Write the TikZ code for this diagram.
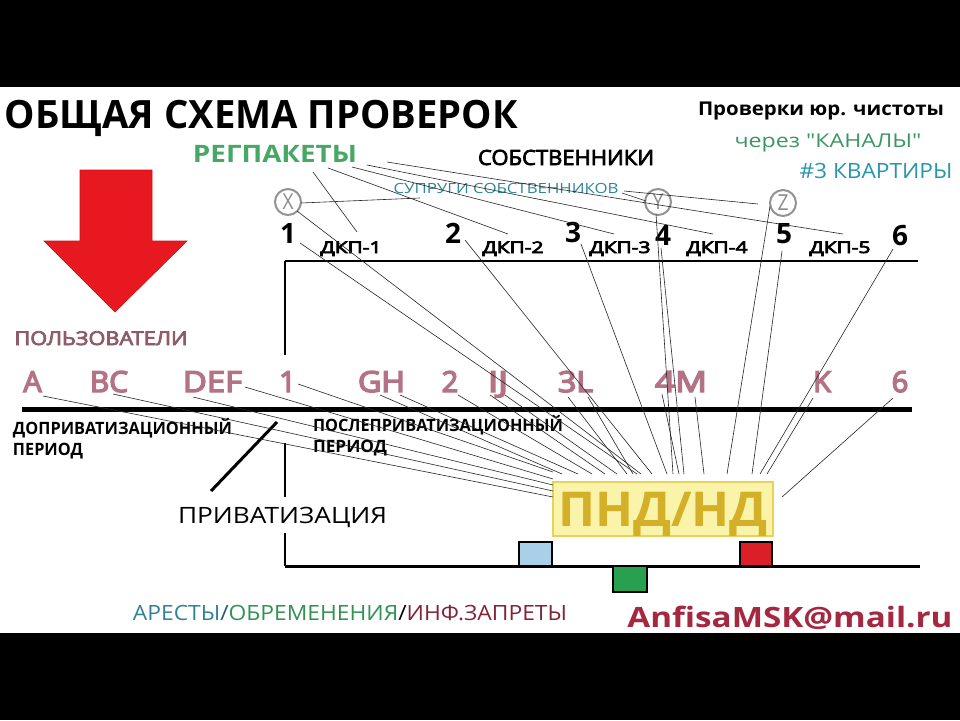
\documentclass[tikz,border=0pt]{standalone}
\usepackage{fontspec}
\usepackage{graphicx}
\setmainfont{Open Sans}
\newfontfamily\regf{Open Sans}
\newcommand\medf[1]{\special{pdf:literal direct 2 Tr 0.7 w}#1\special{pdf:literal direct 0 Tr}}
\newcommand\medfw[1]{\special{pdf:literal direct 2 Tr 1.4 w}#1\special{pdf:literal direct 0 Tr}}
\newcommand\tw[2]{\resizebox{#1pt}{\height}{#2}}
\newcommand\fs[1]{\fontsize{#1}{#1}\selectfont}
\definecolor{mauve}{RGB}{180,115,132}
\definecolor{mauvedk}{RGB}{140,92,104}
\definecolor{rpgreen}{RGB}{70,168,100}
\definecolor{tealA}{RGB}{40,150,170}
\definecolor{tealB}{RGB}{45,135,150}
\definecolor{chgreen}{RGB}{60,150,100}
\definecolor{arrowred}{RGB}{232,24,32}
\definecolor{gold}{RGB}{212,176,40}
\definecolor{lightyel}{RGB}{250,244,170}
\definecolor{yelborder}{RGB}{232,210,90}
\definecolor{sqblue}{RGB}{168,208,232}
\definecolor{sqgreen}{RGB}{40,160,80}
\definecolor{sqred}{RGB}{220,30,40}
\definecolor{mailred}{RGB}{165,40,65}
\definecolor{arBlue}{RGB}{50,130,150}
\definecolor{obGreen}{RGB}{50,145,85}
\definecolor{zpRed}{RGB}{130,35,55}
\tikzset{
  txt/.style={inner sep=0pt, anchor=base},
  thinln/.style={draw=black!85, line width=0.6pt},
  axis/.style={draw=black, line width=2.6pt},
  circ/.style={circle, draw=gray!85, line width=2pt, minimum size=26pt, inner sep=0pt, text=gray!90, font=\fs{22}},
  sq/.style={draw=black, line width=2.4pt},
}
\begin{document}
\begin{tikzpicture}[x=1pt,y=-1pt]
\fill[black] (0,0) rectangle (960,720);
\fill[white] (0,87) rectangle (960,633);
\useasboundingbox (0,0) rectangle (960,720);

% titles
\node[txt, font=\fs{39}\bfseries] (title) at (261.5,128) {\tw{513}{ОБЩАЯ СХЕМА ПРОВЕРОК}};
\node[txt, font=\fs{19}\bfseries] (chk) at (821,115) {\tw{246}{Проверки юр. чистоты}};
\node[txt, font=\fs{19}\regf, text=chgreen] (kan) at (828,147) {\tw{187}{через "КАНАЛЫ"}};
\node[txt, font=\fs{21}, text=tealA] (kv) at (876,178) {\tw{153}{\#3 КВАРТИРЫ}};
\node[txt, font=\fs{24}\bfseries, text=rpgreen] (rp) at (275,162) {\tw{164}{РЕГПАКЕТЫ}};
\node[txt, font=\fs{21}] (sob) at (566,165) {\tw{176}{\medf{СОБСТВЕННИКИ}}};
\node[txt, font=\fs{14}, text=tealB] (sup) at (506,193) {\tw{225}{СУПРУГИ СОБСТВЕННИКОВ}};

% circles
\node[circ] (cx) at (288,202) {\tw{11}{X}};
\node[circ] (cy) at (658,202) {\tw{11}{Y}};
\node[circ] (cz) at (783,203) {\tw{11}{Z}};

% numbers
\foreach \n/\x/\y in {1/288/243, 2/453/243, 3/573/242, 4/663/245, 5/784/243, 6/900/245}
  \node[txt, font=\fs{28}\bfseries] (n\n) at (\x,\y) {\n};
% DKP
\foreach \n/\x in {1/351, 2/513, 3/620, 4/717, 5/840}
  \node[txt, font=\fs{16}] (d\n) at (\x,253) {\tw{61}{\medf{ДКП-\n}}};

% arrow
\filldraw[fill=arrowred, draw=arrowred!85!black, line width=0.6pt]
  (80,170) -- (152,170) -- (152,241) -- (187,241) -- (115,312) -- (44,241) -- (80,241) -- cycle;

\node[txt, font=\fs{19}, text=mauvedk] (polz) at (101,345) {\tw{173}{\medf{ПОЛЬЗОВАТЕЛИ}}};

% row letters
\tikzset{rowl/.style={txt, font=\fs{29}, text=mauve}}
\node[rowl] (rA) at (32.5,392) {\medfw{A}};
\node[rowl] (rBC) at (109,392) {\tw{38}{\medfw{BC}}};
\node[rowl] (rDEF) at (212.5,392) {\tw{59}{\medfw{DEF}}};
\node[rowl] (r1) at (287.5,392) {\medfw{1}};
\node[rowl] (rGH) at (381.5,392) {\tw{47}{\medfw{GH}}};
\node[rowl] (r2) at (450,392) {\medfw{2}};
\node[rowl] (rIJ) at (498,392) {\tw{20}{\medfw{IJ}}};
\node[rowl] (r3L) at (575.5,392) {\tw{35}{\medfw{3L}}};
\node[rowl] (r4M) at (681,392) {\tw{52}{\medfw{4M}}};
\node[rowl] (rK) at (822,392) {\medfw{K}};
\node[rowl] (r6) at (900,392) {\medfw{6}};

% period labels
\node[txt, font=\fs{17}\bfseries] (dop) at (122.5,434) {\tw{219}{ДОПРИВАТИЗАЦИОННЫЙ}};
\node[txt, font=\fs{17}\bfseries] (dop2) at (48,455) {\tw{70}{ПЕРИОД}};
\node[txt, font=\fs{17}\bfseries] (posl) at (438,431) {\tw{250}{ПОСЛЕПРИВАТИЗАЦИОННЫЙ}};
\node[txt, font=\fs{17}\bfseries] (posl2) at (350,452) {\tw{74}{ПЕРИОД}};
\node[txt, font=\fs{22.5}] (priv) at (282.5,523) {\tw{209}{ПРИВАТИЗАЦИЯ}};

% PND box
\node[draw=yelborder, fill=lightyel, line width=2pt, minimum width=220pt, minimum height=54pt, inner sep=0pt] (box) at (663,509) {};
\node[txt, font=\fs{48}\bfseries, text=gold] (pnd) at (663,526) {\tw{210}{ПНД/НД}};

% axes
\coordinate (tl) at (285,261); \coordinate (tr) at (918,261);
\coordinate (bl) at (285,566); \coordinate (br) at (920,566);
\coordinate (ml) at (22,409); \coordinate (mr) at (912,409);
\coordinate (v1) at (285,355); \coordinate (v2) at (285,443); \coordinate (v3) at (285,497); \coordinate (v4) at (285,533);
\draw[axis] (tl) -- (tr);
\draw[axis, line width=3pt] (bl) -- (br);
\draw[axis, line width=5pt] (ml) -- (mr);
\draw[axis] (tl) -- (v1);
\draw[axis] (v2) -- (v3);
\draw[axis] (v4) -- (bl);
\coordinate (pvA) at (277,422); \coordinate (pvB) at (211,491);
\draw[black, line width=3pt] (pvA) -- (pvB);

% squares
\filldraw[sq, fill=sqblue] (519,542) rectangle (552,566);
\filldraw[sq, fill=sqred] (740,542) rectangle (772,566);
\filldraw[sq, fill=sqgreen] (613,566) rectangle (647,592);

% bottom texts
\node[txt, font=\fs{21}] (ar) at (350,620) {\tw{434}{\textcolor{arBlue}{АРЕСТЫ}\textcolor{tealB!70!black}{/}\textcolor{obGreen}{ОБРЕМЕНЕНИЯ}\textcolor{black}{/}\textcolor{zpRed}{ИНФ.ЗАПРЕТЫ}}};
\node[txt, font=\fs{28}\bfseries, text=mailred] (mail) at (790,627) {\tw{325}{AnfisaMSK@mail.ru}};

% connectors: top area
\foreach \i/\sx/\sy/\ex/\ey in {
  1/313/172/357/232, 2/328/168/508/234, 3/352/167/614/234, 4/367/165/713/234, 5/387/162/843/234,
  6/301/203/420/198, 7/622/193/646/201, 8/624/191/758/204}
{
  \coordinate (ts\i) at (\sx,\sy); \coordinate (te\i) at (\ex,\ey);
  \draw[thinln] (ts\i) -- (te\i);
}
% connectors: top sources to box
\foreach \i/\sx/\sy/\ex/\ey in {
  1/300/243/637/474, 2/297/211/641/474, 3/465/240/652/474, 4/581/244/667/474,
  5/656/214/673/474, 6/661/248/684/474, 7/770/206/727/474, 8/782/251/752/474, 9/893/249/760/474}
{
  \coordinate (us\i) at (\sx,\sy); \coordinate (ue\i) at (\ex,\ey);
  \draw[thinln] (us\i) -- (ue\i);
}
% connectors: row letters to box
\foreach \i/\sx/\sy/\ex/\ey in {
  1/43/396/553/497, 2/113/394/553/491, 3/193/397/553/485, 4/245/387/553/479, 5/298/384/553/472,
  6/380/395/562/474, 7/400/395/578/474, 8/458/395/592/474, 9/490/395/605/474, 10/505/395/617/474,
  11/568/397/627/474, 12/588/397/633/474, 13/662/394/679/474, 14/695/397/704/474, 15/813/398/767/474,
  16/893/398/782/497}
{
  \coordinate (rs\i) at (\sx,\sy); \coordinate (re\i) at (\ex,\ey);
  \draw[thinln] (rs\i) -- (re\i);
}
\end{tikzpicture}
\end{document}
